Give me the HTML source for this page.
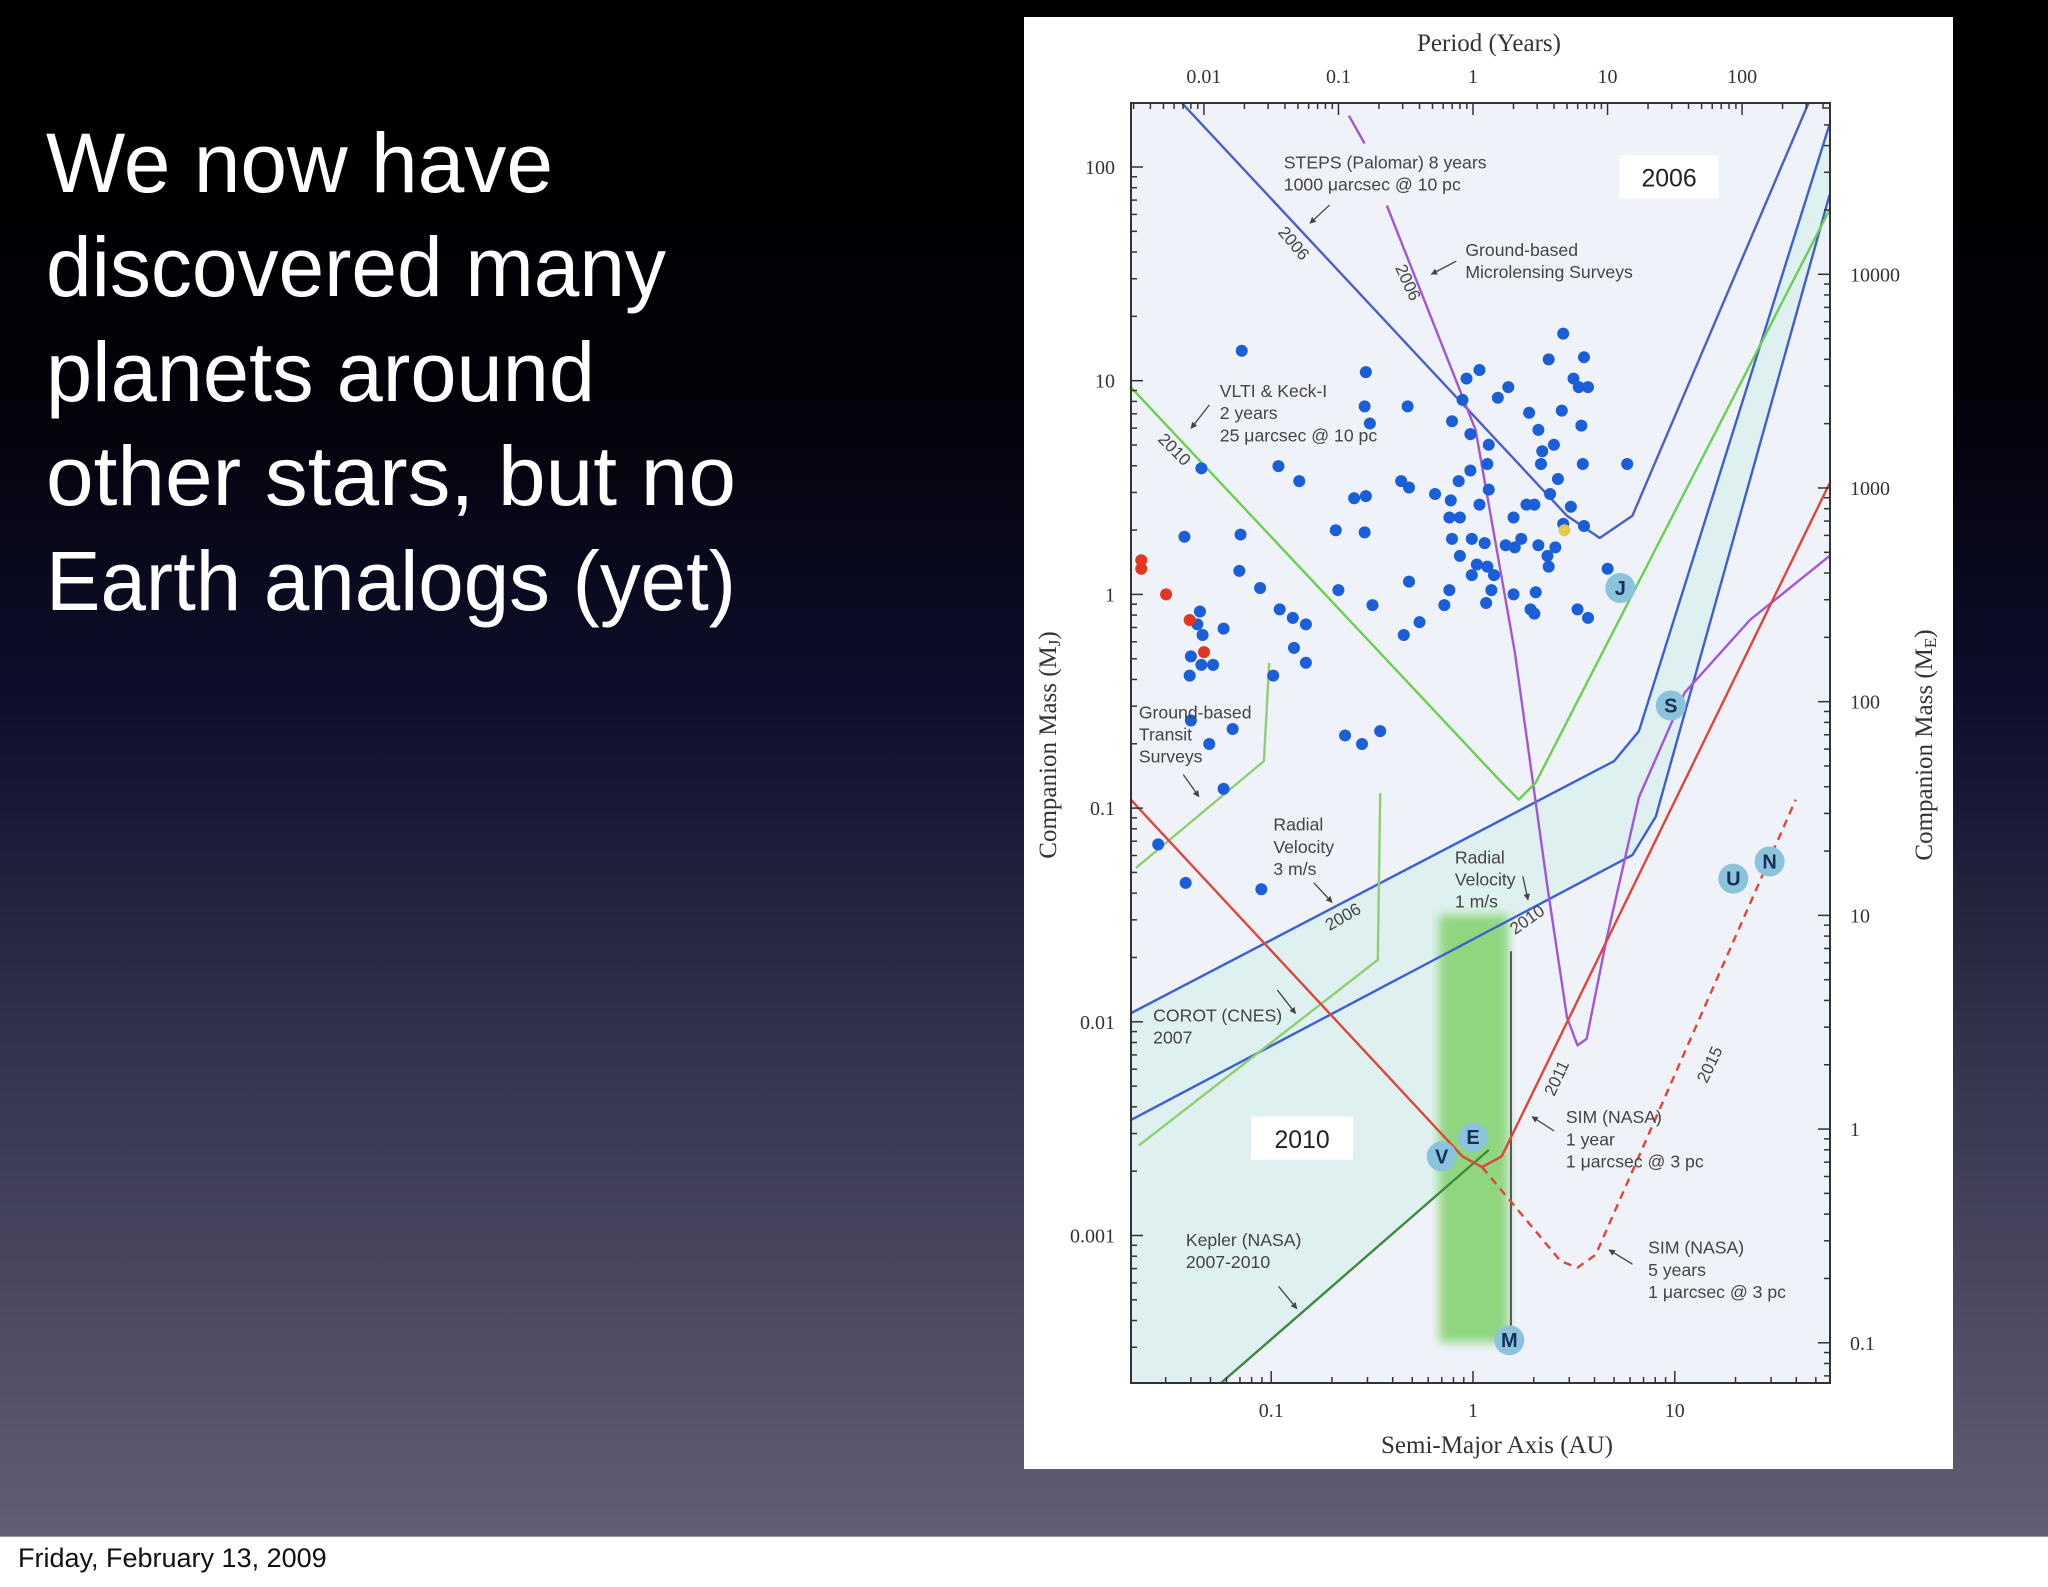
<!DOCTYPE html>
<html><head><meta charset="utf-8">
<style>
html,body{margin:0;padding:0;width:2048px;height:1587px;overflow:hidden;background:#fff}
svg{display:block}
</style></head>
<body>
<svg id="root" width="2048" height="1587" viewBox="0 0 2048 1587" xmlns="http://www.w3.org/2000/svg">
<defs>
<linearGradient id="bg" x1="0" y1="0" x2="0" y2="1">
<stop offset="0" stop-color="#000"/>
<stop offset="0.25" stop-color="#020208"/>
<stop offset="0.45" stop-color="#0e0e2c"/>
<stop offset="0.7" stop-color="#36364f"/>
<stop offset="1" stop-color="#625f74"/>
</linearGradient>
<filter id="blur"><feGaussianBlur stdDeviation="5"/></filter>
<clipPath id="plotclip"><rect x="1131" y="103" width="699" height="1280"/></clipPath>
<marker id="arr" viewBox="0 0 10 10" refX="9" refY="5" markerWidth="5" markerHeight="5" orient="auto"><path d="M0,0 L10,5 L0,10 z" fill="#444"/></marker>
</defs>
<rect x="0" y="0" width="2048" height="1536" fill="url(#bg)"/>
<rect x="0" y="1536" width="2048" height="51" fill="#fff"/>
<line x1="0" y1="1536.5" x2="2048" y2="1536.5" stroke="#999" stroke-width="1"/>
<text x="18" y="1567" font-family="Liberation Sans, sans-serif" font-size="27" fill="#111">Friday, February 13, 2009</text>
<g font-family="Liberation Sans, sans-serif" font-size="84" fill="#fff">
<text x="46" y="192" textLength="507" lengthAdjust="spacingAndGlyphs">We now have</text>
<text x="46" y="296" textLength="620" lengthAdjust="spacingAndGlyphs">discovered many</text>
<text x="46" y="401" textLength="549" lengthAdjust="spacingAndGlyphs">planets around</text>
<text x="46" y="505" textLength="690" lengthAdjust="spacingAndGlyphs">other stars, but no</text>
<text x="46" y="610" textLength="690" lengthAdjust="spacingAndGlyphs">Earth analogs (yet)</text>
</g>
<rect x="1024" y="17" width="929" height="1452" fill="#fff"/>
<rect x="1131" y="103" width="699" height="1280" fill="#f0f2fa"/>
<g id="chart" clip-path="url(#plotclip)"></g>
<g id="axes"></g>
<g id="labels" transform="scale(1.306)" font-family="Liberation Sans, sans-serif" font-size="13.5" fill="#444"></g>
</svg>
<script>
// ---- data (log10 semi-major axis [AU], log10 mass [M_J]) ----
var dotLogA=[-1.146,-0.531,-0.537,-0.511,-0.324,-0.052,-0.104,-0.013,-1.346,-0.964,-0.861,-1.430,-1.152,-1.158,-1.055,-0.958,-0.893,-0.828,-0.887,-0.828,-0.990,-1.353,-1.366,-1.340,-1.398,-1.346,-1.288,-1.404,-1.236,-0.680,-0.537,-0.589,-0.531,-0.356,-0.317,-0.667,-0.498,-0.317,-0.343,-0.265,-0.188,-0.071,-0.110,-0.117,-0.065,0.032,-0.006,-0.104,-0.065,0.058,0.019,0.071,-0.006,0.104,0.162,0.207,0.201,0.304,0.239,0.324,0.369,0.408,0.311,0.285,0.375,0.091,0.065,0.201,0.304,-0.142,-0.117,0.078,0.123,0.078,-0.032,0.032,0.175,0.375,0.447,0.498,0.550,0.524,0.570,0.278,0.324,0.440,0.401,0.343,0.421,0.382,0.537,0.544,0.337,0.265,0.447,0.485,0.667,0.550,0.764,0.518,0.570,-0.013,0.071,-0.634,-0.550,-0.460,-1.236,-1.398,-1.307,-1.191,-1.560,-1.424,-1.049];
var dotLogM=[1.14,1.04,0.88,0.80,0.88,0.91,0.81,0.75,0.59,0.60,0.53,0.27,0.28,0.11,0.03,-0.07,-0.11,-0.14,-0.25,-0.32,-0.38,-0.08,-0.14,-0.19,-0.29,-0.33,-0.33,-0.38,-0.16,0.30,0.29,0.45,0.46,0.53,0.50,0.02,-0.05,0.06,-0.19,-0.13,0.47,0.53,0.44,0.36,0.36,0.42,0.26,0.26,0.18,0.24,0.14,0.13,0.09,0.09,0.23,0.22,0.36,0.42,0.26,0.23,0.18,0.22,0.01,-0.07,0.13,0.02,-0.04,0.00,-0.09,-0.05,0.02,0.49,0.92,0.70,1.01,1.05,0.97,1.10,1.22,1.01,1.11,0.97,0.97,0.85,0.77,0.86,0.70,0.67,0.54,0.47,0.79,0.61,0.61,0.42,0.33,0.41,0.12,0.32,0.61,-0.07,-0.11,0.58,0.61,-0.66,-0.70,-0.64,-0.91,-0.59,-0.70,-0.63,-1.17,-1.35,-1.38];
var transitLogA=[-1.644,-1.644,-1.521,-1.404,-1.333];
var transitLogM=[0.16,0.12,0.00,-0.12,-0.27];
var yellowLogA=[0.453], yellowLogM=[0.30];
var planetNames=["J","S","U","N","E","V","M"];
var planetLogA=[0.73,0.98,1.29,1.47,0.00,-0.155,0.18];
var planetLogM=[0.03,-0.52,-1.33,-1.25,-2.54,-2.63,-3.49];
var stepsA=[-1.443,0.466,0.628,0.790,1.663], stepsM=[2.30,0.368,0.264,0.368,2.30];
var rv06A=[-1.696,0.699,0.822,1.767], rv06M=[-1.96,-0.78,-0.64,2.20];
var rv10A=[-1.696,0.790,0.906,1.767], rv10M=[-2.46,-1.22,-1.04,1.87];
var microA=[-0.427,0.013,0.207,0.369,0.466,0.518,0.563,0.660,0.822,1.049,1.372,1.767];
var microM=[1.82,0.77,-0.27,-1.37,-1.98,-2.11,-2.08,-1.62,-0.95,-0.46,-0.12,0.18];
var microDashA=[-0.615,-0.537], microDashM=[2.24,2.11];
var vltiA=[-1.696,0.142,0.227,0.311,1.767], vltiM=[0.97,-0.88,-0.96,-0.88,1.80];
var transitLineA=[-1.670,-1.036,-1.010], transitLineM=[-1.28,-0.78,-0.32];
var corotA=[-1.657,-0.472,-0.460], corotM=[-2.58,-1.71,-0.93];
var keplerA=[-1.249,0.078], keplerM=[-3.69,-2.60];
var sim1A=[-1.696,-0.052,0.045,0.142,1.767], sim1M=[-0.96,-2.63,-2.68,-2.63,0.52];
var sim5A=[0.045,0.434,0.518,0.608,1.599], sim5M=[-2.68,-3.12,-3.15,-3.09,-0.96];
var regionA=[-1.696,0.699,0.822,1.767,1.767,0.906,0.790,0.175,0.175,0.078,-1.249,-1.696];
var regionM=[-1.96,-0.78,-0.64,2.20,1.87,-1.04,-1.22,-1.53,-2.70,-2.60,-3.69,-3.69];
var habA=[-0.168,0.175], habM=[-1.50,-3.50];
var xTickVals=[0.1,1,10], xTickLabels=["0.1","1","10"];
var yTickVals=[100,10,1,0.1,0.01,0.001], yTickLabels=["100","10","1","0.1","0.01","0.001"];
var pTickVals=[0.01,0.1,1,10,100], pTickLabels=["0.01","0.1","1","10","100"];
var meTickVals=[10000,1000,100,10,1,0.1], meTickLabels=["10000","1000","100","10","1","0.1"];

var NS="http://www.w3.org/2000/svg";
function X(la){return 1473+la*201.8;}
function Y(lm){return 167+(2-lm)*213.7;}
var L=1131,R=1830,T=103,B=1383;
function mk(tag,attrs,parent){var e=document.createElementNS(NS,tag);for(var k in attrs)e.setAttribute(k,attrs[k]);parent.appendChild(e);return e;}
var chart=document.getElementById('chart'), axes=document.getElementById('axes'), labels=document.getElementById('labels');
function pts(A,M){return A.map(function(a,i){return X(a).toFixed(1)+','+Y(M[i]).toFixed(1);}).join(' ');}

var reg=mk('polygon',{points:pts(regionA,regionM),fill:'#def0ef'},chart);


var hab=mk('rect',{x:X(habA[0]),y:Y(habM[0]),width:X(habA[1])-X(habA[0]),height:Y(habM[1])-Y(habM[0]),fill:'#8fd67f',filter:'url(#blur)'},chart);


var gl=mk('line',{x1:X(0.188),y1:Y(-1.67),x2:X(0.188),y2:Y(-3.5),stroke:'#555','stroke-width':2},chart);



function line(A,M,color,name,dash,w){
  var p=mk('polyline',{points:pts(A,M),fill:'none',stroke:color,'stroke-width':w||2.4,'stroke-linejoin':'round'},chart);
  if(dash)p.setAttribute('stroke-dasharray',dash);
  
  
}
line(stepsA,stepsM,'#4a5fc8','steps-astrometry-line');
line(rv06A,rv06M,'#3f5fd0','radial-velocity-2006-line');
line(rv10A,rv10M,'#3f5fd0','radial-velocity-2010-line');
line(microA,microM,'#a257d8','microlensing-line');
line(microDashA,microDashM,'#a257d8','microlensing-dash');
line(vltiA,vltiM,'#6ad050','vlti-keck-line');
line(transitLineA,transitLineM,'#8ed070','ground-transit-line');
line(corotA,corotM,'#8ed070','corot-line');
line(keplerA,keplerM,'#3c8a3c','kepler-line');
line(sim1A,sim1M,'#e0453a','sim-1-year-line');
line(sim5A,sim5M,'#e0453a','sim-5-year-line','8,6');

dotLogA.forEach(function(a,i){
  var c=mk('circle',{cx:X(a),cy:Y(dotLogM[i]),r:6,fill:'#1a5fd8'},chart);
  
  
});
transitLogA.forEach(function(a,i){
  var c=mk('circle',{cx:X(a),cy:Y(transitLogM[i]),r:6,fill:'#e2361f'},chart);
  
  
});
yellowLogA.forEach(function(a,i){
  var c=mk('circle',{cx:X(a),cy:Y(yellowLogM[i]),r:6,fill:'#e8c84a'},chart);
  
  
});
planetNames.forEach(function(n,i){
  var g=mk('g',{},chart);
  
  
  mk('circle',{cx:X(planetLogA[i]),cy:Y(planetLogM[i]),r:15,fill:'#8cc3dc'},g);
  var t=mk('text',{x:X(planetLogA[i]),y:Y(planetLogM[i])+7,'text-anchor':'middle','font-family':'Liberation Sans, sans-serif','font-size':20,'font-weight':'bold',fill:'#17305a'},g);
  t.textContent=n;
});

var fr=mk('rect',{x:L,y:T,width:R-L,height:B-T,fill:'none',stroke:'#333','stroke-width':2},axes);


function tick(x1,y1,x2,y2){mk('line',{x1:x1,y1:y1,x2:x2,y2:y2,stroke:'#333','stroke-width':1.5},axes);}
for(var d=-2;d<=1;d++)for(var k=1;k<10;k++){var la=d+Math.log10(k);var x=X(la);if(x<L||x>R)continue;var len=k==1?12:6;tick(x,B,x,B-len);}
for(var d=-3;d<=2;d++)for(var k=1;k<10;k++){var la=(d+Math.log10(k))*2/3;var x=X(la);if(x<L||x>R)continue;var len=k==1?12:6;tick(x,T,x,T+len);}
for(var d=-4;d<=2;d++)for(var k=1;k<10;k++){var lm=d+Math.log10(k);var y=Y(lm);if(y<T||y>B)continue;var len=k==1?12:6;tick(L,y,L+len,y);}
for(var d=-2;d<=4;d++)for(var k=1;k<10;k++){var lm=d+Math.log10(k)-2.502;var y=Y(lm);if(y<T||y>B)continue;var len=k==1?12:6;tick(R,y,R-len,y);}
function txt(x,y,s,name,anchor,size,parent,fam){var t=mk('text',{x:x,y:y,'text-anchor':anchor||'middle','font-family':fam||'Liberation Serif, serif','font-size':size||20,fill:'#333'},parent||axes);t.textContent=s;return t;}
xTickVals.forEach(function(v,i){txt(X(Math.log10(v)),B+34,xTickLabels[i],'x-tick-label');});
pTickVals.forEach(function(v,i){txt(X(Math.log10(v)*2/3),T-20,pTickLabels[i],'period-tick-label');});
yTickVals.forEach(function(v,i){txt(L-16,Y(Math.log10(v))+7,yTickLabels[i],'y-tick-label','end');});
meTickVals.forEach(function(v,i){txt(R+20,Y(Math.log10(v)-2.502)+7,meTickLabels[i],'earth-mass-tick-label','start');});
txt(1489,51,'Period (Years)','top-axis-title','middle',25);
txt(1497,1453,'Semi-Major Axis (AU)','x-axis-title','middle',25);
var yt=txt(0,0,'Companion Mass (M','y-axis-title','middle',25);yt.setAttribute('transform','translate(1056,745) rotate(-90)');
var s1=mk('tspan',{'font-size':17,dy:4},yt);s1.textContent='J';var s1b=mk('tspan',{dy:-4},yt);s1b.textContent=')';
var yt2=txt(0,0,'Companion Mass (M','y2-axis-title','middle',25);yt2.setAttribute('transform','translate(1932,745) rotate(-90)');
var s2=mk('tspan',{'font-size':17,dy:4},yt2);s2.textContent='E';var s2b=mk('tspan',{dy:-4},yt2);s2b.textContent=')';

function lab(x,y,lines,name,rot,size){
  var g=mk('g',{},labels);
  if(rot)g.setAttribute('transform','rotate('+rot+' '+x+' '+y+')');
  lines.forEach(function(s,i){var t=mk('text',{x:x,y:y+i*17,'font-size':size||13.5},g);t.textContent=s;});
}
function arrow(x1,y1,x2,y2,name){
  var a=mk('line',{x1:x1,y1:y1,x2:x2,y2:y2,stroke:'#444','stroke-width':1,'marker-end':'url(#arr)'},labels);
  
  
}
var b1=mk('rect',{x:1240,y:119,width:76,height:33,fill:'#fff'},labels);
var b2=mk('rect',{x:958,y:855,width:78,height:33,fill:'#fff'},labels);
var t06=mk('text',{x:1278,y:143,'text-anchor':'middle','font-size':19,fill:'#222'},labels);t06.textContent='2006';
var t10=mk('text',{x:997,y:879,'text-anchor':'middle','font-size':19,fill:'#222'},labels);t10.textContent='2010';
lab(983,129,['STEPS (Palomar) 8 years','1000 \u03bcarcsec @ 10 pc'],'steps-label');
lab(1122,196,['Ground-based','Microlensing Surveys'],'microlensing-label');
lab(934,304,['VLTI & Keck-I','2 years','25 \u03bcarcsec @ 10 pc'],'vlti-label');
lab(872,550,['Ground-based','Transit','Surveys'],'transit-label');
lab(975,636,['Radial','Velocity','3 m/s'],'rv-3ms-label');
lab(1114,661,['Radial','Velocity','1 m/s'],'rv-1ms-label');
lab(883,782,['COROT (CNES)','2007'],'corot-label');
lab(908,954,['Kepler (NASA)','2007-2010'],'kepler-label');
lab(1199,860,['SIM (NASA)','1 year','1 \u03bcarcsec @ 3 pc'],'sim-1yr-label');
lab(1262,960,['SIM (NASA)','5 years','1 \u03bcarcsec @ 3 pc'],'sim-5yr-label');
lab(978,178,['2006'],'steps-year',50,13);
lab(1068,205,['2006'],'micro-year',65,13);
lab(886,337,['2010'],'vlti-year',45,13);
lab(1018,713,['2006'],'rv06-year',-30,13);
lab(1160,716,['2010'],'rv10-year',-35,13);
lab(1190,840,['2011'],'sim1-year',-65,13);
lab(1307,830,['2015'],'sim5-year',-65,13);
arrow(1018,157,1003,171,'steps-arrow');
arrow(1115,200,1096,210,'microlensing-arrow');
arrow(926,310,912,328,'vlti-arrow');
arrow(906,593,918,610,'transit-arrow');
arrow(1006,676,1020,691,'rv3-arrow');
arrow(1166,671,1170,689,'rv1-arrow');
arrow(978,758,992,776,'corot-arrow');
arrow(979,985,993,1002,'kepler-arrow');
arrow(1190,866,1173,855,'sim1-arrow');
arrow(1250,968,1232,957,'sim5-arrow');
</script>
</body></html>
